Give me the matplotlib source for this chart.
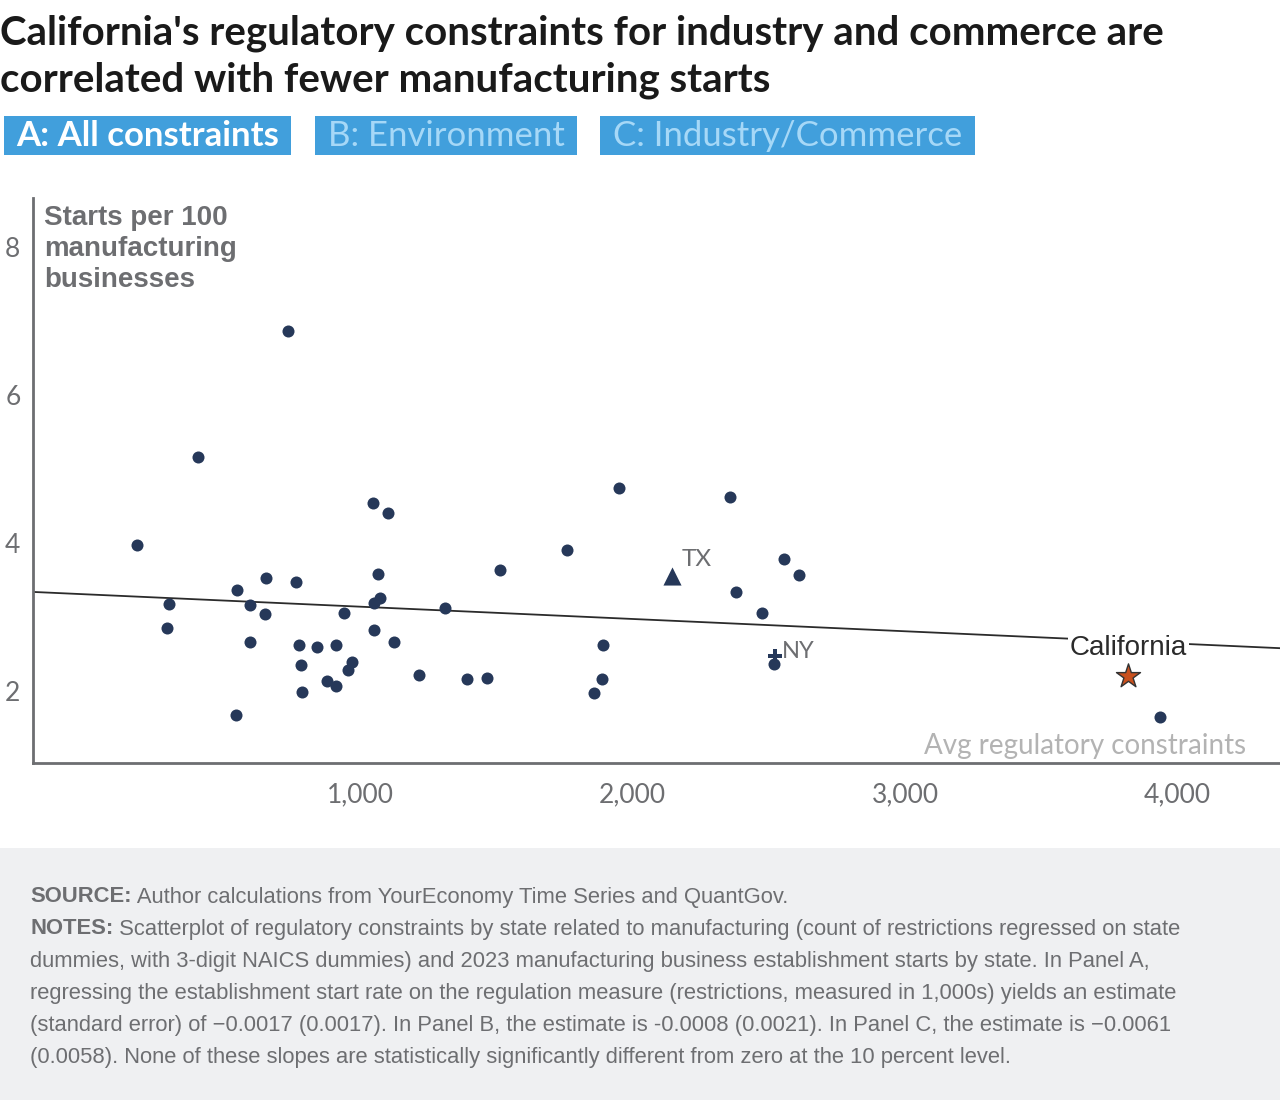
import numpy as np
import matplotlib
matplotlib.use("Agg")
from matplotlib import pyplot as plt
from matplotlib.patches import Rectangle
from matplotlib.ticker import FuncFormatter

# values
regs = [181, 293, 300, 407, 546, 549, 595, 595, 655, 653, 735, 764, 776, 782, 787,
        842, 880, 911, 911, 942, 957, 970, 1049, 1051, 1051, 1066, 1072, 1103, 1124,
        1218, 1311, 1392, 1466, 1515, 1760, 1858, 1888, 1892, 1951, 2358, 2380, 2476,
        2520, 2556, 2610, 3935]
starts = [3.97, 2.85, 3.18, 5.16, 1.68, 3.36, 3.16, 2.66, 3.53, 3.04, 6.86, 3.48, 2.63,
          2.35, 1.99, 2.59, 2.14, 2.07, 2.62, 3.05, 2.29, 2.40, 4.54, 3.19, 2.82, 3.58,
          3.26, 4.40, 2.66, 2.22, 3.12, 2.17, 2.18, 3.64, 3.91, 1.97, 2.16, 2.63, 4.74,
          4.62, 3.34, 3.06, 2.37, 3.78, 3.57, 1.65]
tx = (2146, 3.56)
ny = (2524, 2.48)
ca = (3820, 2.20)
fit_intercept = 3.307
fit_slope = -0.000166
xticks = [1000, 2000, 3000, 4000]
yticks = [2, 4, 6, 8]

navy = "#263859"
grey = "#6d6e71"
blue = "#419fdc"

plt.rcParams["font.family"] = ["Lato", "DejaVu Sans"]
arial = ["Liberation Sans", "DejaVu Sans"]

W, H = 1280, 1100
fig = plt.figure(figsize=(12.8, 11), dpi=100)


def fx(x):
    return x / W


def fy(y):
    return 1 - y / H


# title
fig.text(fx(0), fy(33), "California's regulatory constraints for industry and commerce are",
         fontsize=29, fontweight="bold", color="#1a1a1a", va="center", ha="left")
fig.text(fx(0), fy(80), "correlated with fewer manufacturing starts",
         fontsize=29, fontweight="bold", color="#1a1a1a", va="center", ha="left")

# panel tabs
tabs = [("A: All constraints", 4, 291, "white", "bold"),
        ("B: Environment", 315, 577, "#a6d8f7", "normal"),
        ("C: Industry/Commerce", 600, 975, "#a6d8f7", "normal")]
for label, x0, x1, tc, fw in tabs:
    fig.add_artist(Rectangle((fx(x0), fy(155)), fx(x1 - x0), (155 - 116) / H,
                             transform=fig.transFigure, color=blue, lw=0))
    fig.text(fx((x0 + x1) / 2), fy(136), label, fontsize=25, fontweight=fw,
             color=tc, ha="center", va="center")

# scatter
ax = fig.add_axes([fx(33), fy(763), fx(1280 - 33), (763 - 198) / H])
ax.set_xlim(-200, 4376)
ax.set_ylim(1.03, 8.66)

xs = np.array(ax.get_xlim())
ax.plot(xs, fit_intercept + fit_slope * xs, color="#2b2b2b", lw=1.3, zorder=1)

ax.scatter(regs, starts, s=75, color=navy, zorder=3, lw=0)
ax.scatter([tx[0]], [tx[1]], marker="^", s=170, color=navy, zorder=3, lw=0)
ax.scatter([ny[0]], [ny[1]], marker="P", s=90, color=navy, zorder=4, lw=0)
ax.scatter([ca[0]], [ca[1]], marker="*", s=330, color="#c8501e",
           edgecolor="#333333", lw=1.0, zorder=4)

ax.annotate("TX", tx, xytext=(6.5, 11.5), textcoords="offset points",
            fontsize=17.5, color=grey, va="center", ha="left")
ax.annotate("NY", ny, xytext=(5, 3), textcoords="offset points",
            fontsize=17, color=grey, va="center", ha="left")
ax.text(ca[0], 2.58, "California", fontsize=20, color="#2b2b2b",
        ha="center", va="center", zorder=2, family=arial,
        bbox=dict(facecolor="white", edgecolor="none", pad=1.5))
ax.text(4251, 1.26, "Avg regulatory constraints", fontsize=20, color="#b3b3b3",
        ha="right", va="center")

ax.set_xticks(xticks)
ax.set_yticks(yticks)
ax.xaxis.set_major_formatter(FuncFormatter(lambda v, p: f"{int(v):,}"))
ax.tick_params(length=0, labelsize=19, labelcolor=grey)
ax.tick_params(axis="x", pad=14)
ax.tick_params(axis="y", pad=9)
for s in ["top", "right"]:
    ax.spines[s].set_visible(False)
for s in ["left", "bottom"]:
    ax.spines[s].set_color(grey)
    ax.spines[s].set_linewidth(2)

fig.text(fx(44), fy(205), "Starts per 100\nmanufacturing\nbusinesses", fontsize=20,
         fontweight="bold", color=grey, va="top", ha="left", linespacing=1.25,
         family=arial)

# footer
fig.add_artist(Rectangle((0, 0), 1, (1100 - 848) / H, transform=fig.transFigure,
                         color="#eff0f2", lw=0))
foot = [("SOURCE:", " Author calculations from YourEconomy Time Series and QuantGov."),
        ("NOTES:", " Scatterplot of regulatory constraints by state related to manufacturing (count of restrictions regressed on state"),
        ("", "dummies, with 3-digit NAICS dummies) and 2023 manufacturing business establishment starts by state. In Panel A,"),
        ("", "regressing the establishment start rate on the regulation measure (restrictions, measured in 1,000s) yields an estimate"),
        ("", "(standard error) of \u22120.0017 (0.0017). In Panel B, the estimate is -0.0008 (0.0021). In Panel C, the estimate is \u22120.0061"),
        ("", "(0.0058). None of these slopes are statistically significantly different from zero at the 10 percent level.")]
renderer = fig.canvas.get_renderer()
for i, (bold, rest) in enumerate(foot):
    y = fy(897 + 32 * i)
    x = fx(30)
    if bold:
        t = fig.text(x, y, bold, fontsize=15.8, fontweight="bold", color=grey,
                     va="center", ha="left", family=arial)
        bb = t.get_window_extent(renderer)
        x = bb.x1 / W
    fig.text(x, y, rest, fontsize=15.8, color=grey, va="center", ha="left", family=arial)

fig.savefig("out.png", dpi=100)
